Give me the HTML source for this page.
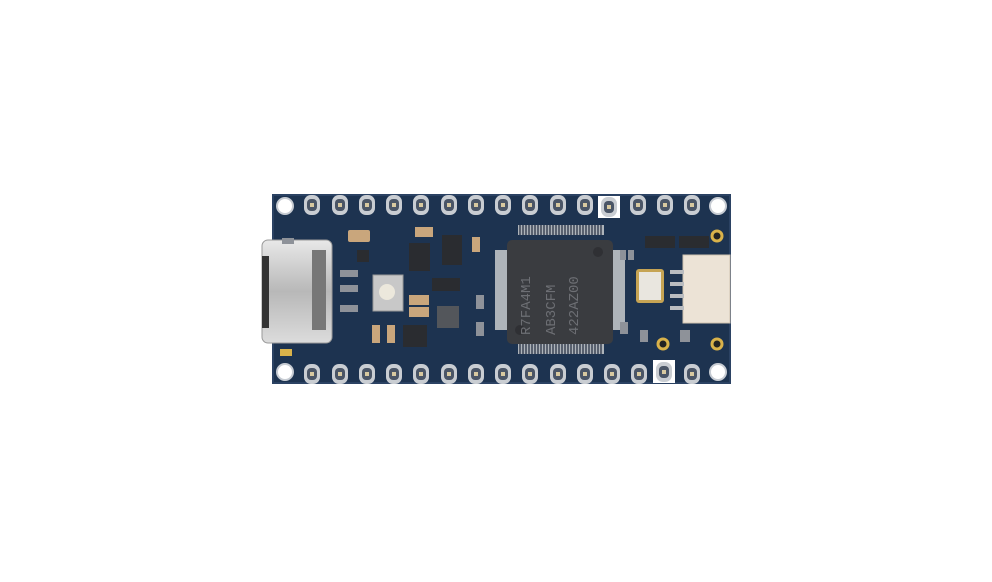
<!DOCTYPE html>
<html><head><style>html,body{margin:0;padding:0;background:#fff;width:992px;height:582px;overflow:hidden}</style></head>
<body>
<svg width="992" height="582" viewBox="0 0 992 582" xmlns="http://www.w3.org/2000/svg">
<defs>
<linearGradient id="usb" x1="0" y1="0" x2="0" y2="1"><stop offset="0" stop-color="#e8e8e8"/><stop offset="0.5" stop-color="#b8b8b8"/><stop offset="1" stop-color="#dcdcdc"/></linearGradient>
<g id="pin"><rect x="-8" y="-10" width="16" height="20" rx="7" fill="#c9cdd2"/><rect x="-5" y="-6" width="10" height="12" rx="4" fill="#4a5566"/><rect x="-2" y="-2" width="4" height="4" fill="#d8c9a0"/></g>
</defs>
<rect x="273" y="195" width="457" height="188" fill="#1d3350"/>
<rect x="273" y="195" width="457" height="188" fill="none" stroke="#2b4263" stroke-width="2"/>
<!-- corner holes -->
<g fill="#fff" stroke="#c7ccd3" stroke-width="2">
<circle cx="285" cy="206" r="8"/><circle cx="718" cy="206" r="8"/><circle cx="285" cy="372" r="8"/><circle cx="718" cy="372" r="8"/></g>
<!-- gold vias -->
<g fill="#222" stroke="#d9b24a" stroke-width="3">
<circle cx="717" cy="236" r="5"/><circle cx="663" cy="344" r="5"/><circle cx="717" cy="344" r="5"/></g>
<!-- white marks -->
<rect x="598" y="196" width="22" height="22" fill="#fff"/>
<rect x="653" y="360" width="22" height="23" fill="#fff"/>
<!-- pins top -->
<g id="top">
<use href="#pin" x="312" y="205"/><use href="#pin" x="340" y="205"/><use href="#pin" x="367" y="205"/><use href="#pin" x="394" y="205"/><use href="#pin" x="421" y="205"/><use href="#pin" x="449" y="205"/><use href="#pin" x="476" y="205"/><use href="#pin" x="503" y="205"/><use href="#pin" x="530" y="205"/><use href="#pin" x="558" y="205"/><use href="#pin" x="585" y="205"/><use href="#pin" x="609" y="207"/><use href="#pin" x="638" y="205"/><use href="#pin" x="665" y="205"/><use href="#pin" x="692" y="205"/>
</g>
<g>
<use href="#pin" x="312" y="374"/><use href="#pin" x="340" y="374"/><use href="#pin" x="367" y="374"/><use href="#pin" x="394" y="374"/><use href="#pin" x="421" y="374"/><use href="#pin" x="449" y="374"/><use href="#pin" x="476" y="374"/><use href="#pin" x="503" y="374"/><use href="#pin" x="530" y="374"/><use href="#pin" x="558" y="374"/><use href="#pin" x="585" y="374"/><use href="#pin" x="612" y="374"/><use href="#pin" x="639" y="374"/><use href="#pin" x="664" y="372"/><use href="#pin" x="692" y="374"/>
</g>
<!-- USB-C -->
<rect x="262" y="240" width="70" height="103" rx="6" fill="url(#usb)" stroke="#9a9a9a"/>
<rect x="262" y="256" width="7" height="72" fill="#333"/>
<rect x="312" y="250" width="14" height="80" fill="#777"/>
<!-- MCU -->
<g fill="#aeb4ba">
<rect x="518" y="225" width="86" height="10"/><rect x="518" y="344" width="86" height="10"/>
<rect x="495" y="250" width="12" height="80"/><rect x="613" y="250" width="12" height="80"/>
</g>
<g stroke="#2a3346" stroke-width="1.3">
<path d="M520 225v10M523 225v10M526 225v10M529 225v10M532 225v10M535 225v10M538 225v10M541 225v10M544 225v10M547 225v10M550 225v10M553 225v10M556 225v10M559 225v10M562 225v10M565 225v10M568 225v10M571 225v10M574 225v10M577 225v10M580 225v10M583 225v10M586 225v10M589 225v10M592 225v10M595 225v10M598 225v10M601 225v10"/>
<path d="M520 344v10M523 344v10M526 344v10M529 344v10M532 344v10M535 344v10M538 344v10M541 344v10M544 344v10M547 344v10M550 344v10M553 344v10M556 344v10M559 344v10M562 344v10M565 344v10M568 344v10M571 344v10M574 344v10M577 344v10M580 344v10M583 344v10M586 344v10M589 344v10M592 344v10M595 344v10M598 344v10M601 344v10"/>
</g>
<rect x="507" y="240" width="106" height="104" rx="5" fill="#3a3c40"/>
<circle cx="598" cy="252" r="5" fill="#2f3034"/><circle cx="520" cy="330" r="5" fill="#2f3034"/>
<text transform="translate(530 335) rotate(-90)" font-family="Liberation Mono, monospace" font-size="14" fill="#6d6f74">R7FA4M1</text>
<text transform="translate(555 335) rotate(-90)" font-family="Liberation Mono, monospace" font-size="14" fill="#6d6f74">AB3CFM</text>
<text transform="translate(578 335) rotate(-90)" font-family="Liberation Mono, monospace" font-size="14" fill="#6d6f74">422AZ00</text>
<!-- JST connector -->
<rect x="683" y="255" width="47" height="68" fill="#ece3d6" stroke="#cfc3b0"/>
<g fill="#b9bcc0"><rect x="670" y="270" width="14" height="4"/><rect x="670" y="282" width="14" height="4"/><rect x="670" y="294" width="14" height="4"/><rect x="670" y="306" width="14" height="4"/></g>
<!-- crystal -->
<rect x="636" y="269" width="28" height="34" rx="3" fill="#c6a454"/><rect x="639" y="272" width="22" height="28" fill="#e9e6df"/>
<!-- button -->
<rect x="373" y="275" width="30" height="36" fill="#c8c8c8" stroke="#999"/><circle cx="387" cy="292" r="8" fill="#ece8dc"/>
<!-- misc components -->
<g fill="#2a2c30">
<rect x="409" y="243" width="21" height="28"/><rect x="442" y="235" width="20" height="30"/><rect x="432" y="278" width="28" height="13"/><rect x="403" y="325" width="24" height="22"/><rect x="437" y="306" width="22" height="22" fill="#53565b"/><rect x="357" y="250" width="12" height="12"/><rect x="645" y="236" width="30" height="12"/><rect x="679" y="236" width="30" height="12"/>
</g>
<g fill="#c9a67c">
<rect x="348" y="230" width="22" height="12" rx="2"/><rect x="415" y="227" width="18" height="10"/><rect x="472" y="237" width="8" height="15"/><rect x="409" y="295" width="20" height="10"/><rect x="409" y="307" width="20" height="10"/><rect x="372" y="325" width="8" height="18"/><rect x="387" y="325" width="8" height="18"/>
</g>
<g fill="#8e9299">
<rect x="282" y="238" width="12" height="6"/><rect x="340" y="270" width="18" height="7"/><rect x="340" y="285" width="18" height="7"/><rect x="340" y="305" width="18" height="7"/><rect x="476" y="295" width="8" height="14"/><rect x="476" y="322" width="8" height="14"/><rect x="620" y="322" width="8" height="12"/><rect x="640" y="330" width="8" height="12"/><rect x="680" y="330" width="10" height="12"/><rect x="620" y="250" width="6" height="10"/><rect x="628" y="250" width="6" height="10"/>
</g>
<rect x="280" y="349" width="12" height="7" fill="#d9b24a"/>
</svg>
</body></html>
